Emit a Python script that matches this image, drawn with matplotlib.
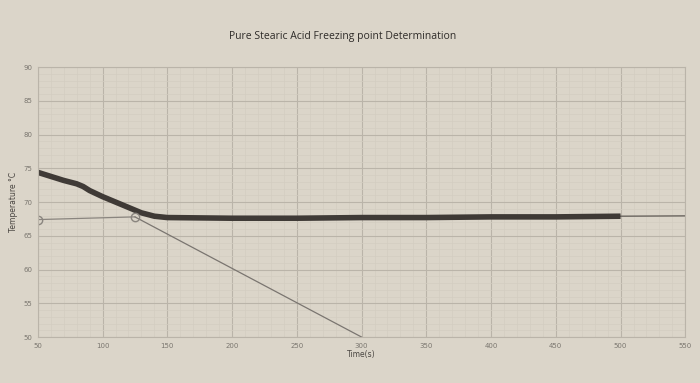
import matplotlib
matplotlib.use("Agg")
import matplotlib.pyplot as plt
from matplotlib.ticker import MultipleLocator

# Data
time_s = [50, 60, 70, 80, 85, 90, 100, 110, 120, 130, 140, 150, 200, 250, 300, 350, 400, 450, 500]
temp_c = [74.4, 73.8, 73.2, 72.7, 72.3, 71.7, 70.8, 70.0, 69.2, 68.4, 67.9, 67.7, 67.6, 67.6, 67.7, 67.7, 67.8, 67.8, 67.9]
ext_right_x = [500, 550]
ext_right_y = [67.9, 67.95]
plateau_back_x = [50, 125]
plateau_back_y = [67.4, 67.8]
tangent_x = [125, 300]
tangent_y = [67.8, 50]
x_ticks = [50, 100, 150, 200, 250, 300, 350, 400, 450, 500, 550]
y_ticks = [50, 55, 60, 65, 70, 75, 80, 85, 90]

bg = "#dbd5c9"
fig = plt.figure(figsize=(7, 3.83), dpi=100, facecolor=bg)
ax = fig.add_axes([0.054, 0.12, 0.925, 0.705], facecolor=bg)

ax.set_xlim(50, 550)
ax.set_ylim(50, 90)
ax.xaxis.set_major_locator(plt.FixedLocator(x_ticks))
ax.yaxis.set_major_locator(plt.FixedLocator(y_ticks))
ax.xaxis.set_minor_locator(MultipleLocator(10))
ax.yaxis.set_minor_locator(MultipleLocator(1))
ax.grid(which="major", color="#bab4a9", linewidth=0.8)
ax.grid(which="minor", color="#d3cdc1", linewidth=0.5)
ax.set_axisbelow(True)
for s in ax.spines.values():
    s.set_color("#bab4a9")
    s.set_linewidth(0.8)
ax.tick_params(which="both", length=0, labelsize=5, colors="#7a766f", pad=4)

ax.plot(tangent_x, tangent_y, color="#7a7570", linewidth=0.9)
ax.plot(plateau_back_x, plateau_back_y, color="#8a857f", linewidth=0.9)
ax.plot(ext_right_x, ext_right_y, color="#6a655f", linewidth=1.0)
ax.plot(time_s, temp_c, color="#3f3a36", linewidth=4.0, solid_capstyle="butt")
ax.plot([plateau_back_x[0], tangent_x[0]], [plateau_back_y[0], tangent_y[0]], linestyle="none",
        marker="o", markersize=6, markerfacecolor="none", markeredgecolor="#8a857f", markeredgewidth=1.0)

fig.text(0.49, 0.905, "Pure Stearic Acid Freezing point Determination", ha="center", va="center",
         fontsize=7.5, color="#2e2b28", family="Open Sans")
ax.set_xlabel("Time(s)", fontsize=5.5, color="#4a4642", labelpad=1)
ax.set_ylabel("Temperature \u00b0C", fontsize=5.5, color="#4a4642", labelpad=4)

fig.savefig("out.png", dpi=100, facecolor=bg)
